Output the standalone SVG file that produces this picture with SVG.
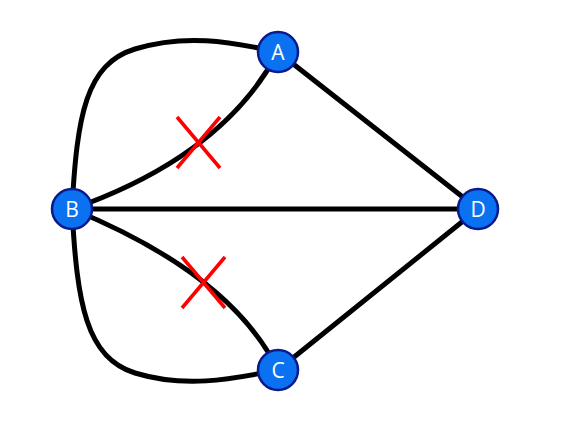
<svg xmlns="http://www.w3.org/2000/svg" width="569" height="434" viewBox="0 0 569 434">
<style>
.e{fill:none;stroke:#000;stroke-width:5;stroke-linecap:round}
.x{stroke:#f00;stroke-width:3.5}
.n circle{fill:#0a72f0;stroke:#0a1a8c;stroke-width:2.5}
.n text{fill:#fff;font-family:"Open Sans","Noto Sans",sans-serif;font-size:21px;text-anchor:middle;dominant-baseline:central}
</style>
<rect width="569" height="434" fill="#fff"/>
<g id="edges">
<path class="e" d="M72,209 C77,115 86,64 135,49 S228,41 278,52"/>
<path class="e" d="M72,209 Q223,156 278,52"/>
<path class="e" d="M72,209 H478"/>
<path class="e" d="M72,209 Q231,274 278,370"/>
<path class="e" d="M72,209 C77,303 86,358 135,373 S228,380 278,370"/>
<path class="e" d="M278,52 L478,209"/>
<path class="e" d="M278,370 L478,209"/>
</g>
<g id="marks">
<path class="x" d="M177,117 L220,168 M220,117 L177,168"/>
<path class="x" d="M182,257 L225,308 M225,257 L182,308"/>
</g>
<g id="A" class="n"><circle cx="278" cy="52" r="20"/><text x="278" y="52">A</text></g>
<g id="B" class="n"><circle cx="72" cy="209" r="20"/><text x="72" y="209">B</text></g>
<g id="C" class="n"><circle cx="278" cy="370" r="20"/><text x="278" y="370">C</text></g>
<g id="D" class="n"><circle cx="478" cy="209" r="20"/><text x="478" y="209">D</text></g>
</svg>
